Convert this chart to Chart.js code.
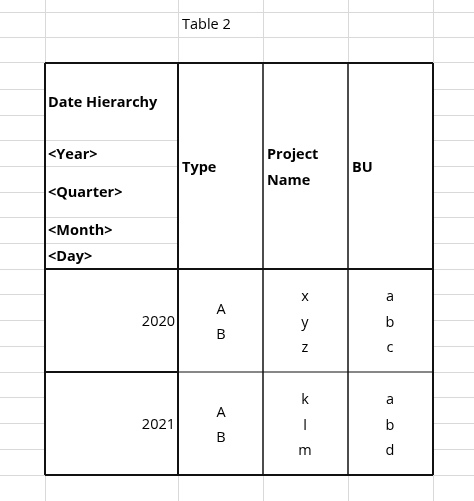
<!DOCTYPE html>
<html>
<head>
<meta charset="utf-8">
<script src="https://cdn.jsdelivr.net/npm/chart.js@4"></script>
<style>
  html, body { margin: 0; padding: 0; background: #fff; }
  #wrap { width: 474px; height: 501px; }
</style>
</head>
<body>
<div id="wrap"><canvas id="sheet" width="474" height="501"></canvas></div>
<script>
// Table content
const title = 'Table 2';
const headerCol1 = ['Date Hierarchy', '<Year>', '<Quarter>', '<Month>', '<Day>'];
const headers = [['Type'], ['Project', 'Name'], ['BU']];
const years = ['2020', '2021'];
const types = [['A', 'B'], ['A', 'B']];
const projects = [['x', 'y', 'z'], ['k', 'l', 'm']];
const units = [['a', 'b', 'c'], ['a', 'b', 'd']];

// Sheet layout (pixel units of the sheet)
const colEdges = [45, 178, 263, 348, 433];
const rowLines = [12, 37, 63, 89, 115, 140, 166, 192, 217, 243, 269, 294, 320, 346, 372, 397, 423, 449, 475];
const tableTop = 63, headBottom = 269, rowSplit = 372, tableBottom = 475;
const gridColor = '#d9d9d9';
const FONT = '"Open Sans", Lato, sans-serif';

const tablePlugin = {
  id: 'tablePlugin',
  beforeDatasetsDraw(chart) {
    const ctx = chart.ctx;
    const X = v => chart.scales.x.getPixelForValue(v);
    const Y = v => chart.scales.y.getPixelForValue(v);
    ctx.save();

    // white table body over the sheet grid
    ctx.fillStyle = '#fff';
    ctx.fillRect(X(colEdges[0]), Y(tableTop), X(colEdges[4]) - X(colEdges[0]), Y(tableBottom) - Y(tableTop));

    // light grid lines inside the first header column (unmerged cells)
    ctx.strokeStyle = gridColor; ctx.lineWidth = 1;
    [140, 166, 217, 243].forEach(r => {
      ctx.beginPath(); ctx.moveTo(X(colEdges[0]), Y(r) + 0.5); ctx.lineTo(X(colEdges[1]), Y(r) + 0.5); ctx.stroke();
    });

    // borders
    ctx.strokeStyle = '#111';
    const line = (x1, y1, x2, y2, w) => {
      ctx.lineWidth = w; ctx.beginPath(); ctx.moveTo(X(x1), Y(y1)); ctx.lineTo(X(x2), Y(y2)); ctx.stroke();
    };
    colEdges.forEach((c, i) => line(c, tableTop, c, tableBottom, (i === 0 || i === 4 || i === 1) ? 2 : 1.5));
    line(colEdges[0], tableTop, colEdges[4], tableTop, 2);
    line(colEdges[0], headBottom, colEdges[4], headBottom, 2);
    line(colEdges[0], rowSplit, colEdges[1], rowSplit, 2);
    line(colEdges[1], rowSplit, colEdges[4], rowSplit, 1.2);
    line(colEdges[0], tableBottom, colEdges[4], tableBottom, 2);

    // text
    ctx.fillStyle = '#000';
    ctx.textBaseline = 'middle';
    const text = (s, x, y, align, bold) => {
      ctx.font = (bold ? 'bold ' : '') + '14.5px ' + FONT;
      ctx.textAlign = align;
      ctx.fillText(s, X(x), Y(y));
    };
    text(title, 182, 25, 'left', false);
    const h1y = [103, 155, 193, 231, 257];
    headerCol1.forEach((s, i) => text(s, 48, h1y[i], 'left', true));
    text(headers[0][0], 182, 168, 'left', true);
    text(headers[1][0], 267, 155, 'left', true);
    text(headers[1][1], 267, 181, 'left', true);
    text(headers[2][0], 352, 168, 'left', true);

    const rowTops = [headBottom, rowSplit];
    years.forEach((yr, r) => {
      const top = rowTops[r];
      text(yr, 175, top + 53, 'right', false);
      types[r].forEach((s, i) => text(s, 221, top + 41 + i * 25, 'center', false));
      projects[r].forEach((s, i) => text(s, 305, top + 28 + i * 25.5, 'center', false));
      units[r].forEach((s, i) => text(s, 390, top + 28 + i * 25.5, 'center', false));
    });
    ctx.restore();
  }
};

new Chart(document.getElementById('sheet'), {
  type: 'scatter',
  data: { datasets: [{ data: [] }] },
  options: {
    responsive: false,
    animation: false,
    layout: { padding: 0 },
    plugins: { legend: { display: false }, tooltip: { enabled: false } },
    scales: {
      x: {
        type: 'linear', min: 0, max: 474,
        afterBuildTicks: s => { s.ticks = colEdges.map(v => ({ value: v })); },
        ticks: { display: false },
        grid: { color: gridColor, drawTicks: false },
        border: { display: false }
      },
      y: {
        type: 'linear', min: 0, max: 501, reverse: true,
        afterBuildTicks: s => { s.ticks = rowLines.map(v => ({ value: v })); },
        ticks: { display: false },
        grid: { color: gridColor, drawTicks: false },
        border: { display: false }
      }
    }
  },
  plugins: [tablePlugin]
});
</script>
</body>
</html>
